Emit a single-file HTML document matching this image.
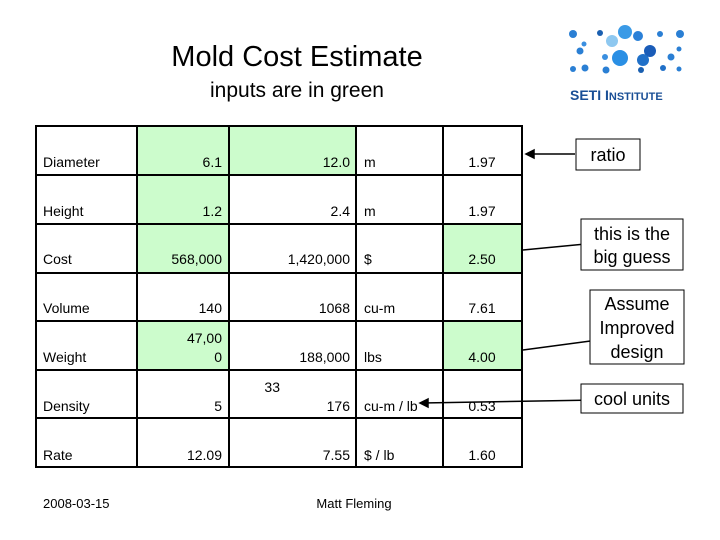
<!DOCTYPE html>
<html><head><meta charset="utf-8"><style>
body{margin:0;background:#fff}
svg{display:block;font-family:"Liberation Sans",Arial,sans-serif}
</style></head><body>
<svg width="720" height="540" viewBox="0 0 720 540">
<rect width="720" height="540" fill="#fff"/>
<text x="297" y="66" font-size="29" text-anchor="middle">Mold Cost Estimate</text>
<text x="297" y="97" font-size="21" text-anchor="middle">inputs are in green</text>
<g>
<circle cx="573" cy="34" r="4" fill="#2a7fd4"/><circle cx="584" cy="44" r="2.5" fill="#3a8fe0"/>
<circle cx="580" cy="51" r="3.5" fill="#2a7fd4"/><circle cx="573" cy="69" r="3" fill="#2a7fd4"/>
<circle cx="585" cy="68" r="3.5" fill="#2a7fd4"/><circle cx="600" cy="33" r="3" fill="#1a5fb0"/>
<circle cx="612" cy="41" r="6" fill="#8ec8f0"/><circle cx="625" cy="32" r="7" fill="#3a9ae6"/>
<circle cx="638" cy="36" r="5" fill="#2a80d8"/><circle cx="660" cy="34" r="3" fill="#2a7fd4"/>
<circle cx="680" cy="34" r="4" fill="#2a7fd4"/><circle cx="650" cy="51" r="6" fill="#1a5cb8"/>
<circle cx="643" cy="60" r="6" fill="#2070c8"/><circle cx="620" cy="58" r="8" fill="#2a8fe4"/>
<circle cx="605" cy="57" r="3" fill="#3a8fe0"/><circle cx="606" cy="70" r="3.5" fill="#2a7fd4"/>
<circle cx="641" cy="70" r="3" fill="#1a5fb0"/><circle cx="671" cy="57" r="3.5" fill="#2a7fd4"/>
<circle cx="679" cy="49" r="2.5" fill="#2a7fd4"/><circle cx="679" cy="69" r="2.5" fill="#2a7fd4"/>
<circle cx="663" cy="68" r="3" fill="#2070c8"/>
<text x="570" y="100" font-size="14" font-weight="bold" fill="#1a4f96">SETI <tspan font-size="14">I</tspan><tspan font-size="11">NSTITUTE</tspan></text>
</g>
<g fill="#ccfccc">
<rect x="137" y="126" width="92" height="147"/>
<rect x="229" y="126" width="127" height="49"/>
<rect x="137" y="321" width="92" height="49"/>
<rect x="443" y="224" width="79" height="49"/>
<rect x="443" y="321" width="79" height="49"/>
</g>
<g stroke="#000" stroke-width="2">
<rect x="36" y="126" width="486" height="341" fill="none"/>
<line x1="137" y1="126" x2="137" y2="467"/><line x1="229" y1="126" x2="229" y2="467"/>
<line x1="356" y1="126" x2="356" y2="467"/><line x1="443" y1="126" x2="443" y2="467"/>
<line x1="36" y1="175" x2="522" y2="175"/><line x1="36" y1="224" x2="522" y2="224"/>
<line x1="36" y1="273" x2="522" y2="273"/><line x1="36" y1="321" x2="522" y2="321"/>
<line x1="36" y1="370" x2="522" y2="370"/><line x1="36" y1="418" x2="522" y2="418"/>
</g>
<g font-size="14" fill="#000">
<g><text x="43" y="167">Diameter</text><text x="43" y="216">Height</text><text x="43" y="264">Cost</text><text x="43" y="313">Volume</text><text x="43" y="362">Weight</text><text x="43" y="411">Density</text><text x="43" y="460">Rate</text></g>
<g text-anchor="end"><text x="222" y="167">6.1</text><text x="222" y="216">1.2</text><text x="222" y="264">568,000</text><text x="222" y="313">140</text><text x="222" y="343">47,00</text><text x="222" y="362">0</text><text x="222" y="411">5</text><text x="222" y="460">12.09</text></g>
<g text-anchor="end"><text x="350" y="167">12.0</text><text x="350" y="216">2.4</text><text x="350" y="264">1,420,000</text><text x="350" y="313">1068</text><text x="350" y="362">188,000</text><text x="280" y="392">33</text><text x="350" y="411">176</text><text x="350" y="460">7.55</text></g>
<g><text x="364" y="167">m</text><text x="364" y="216">m</text><text x="364" y="264">$</text><text x="364" y="313">cu-m</text><text x="364" y="362">lbs</text><text x="364" y="411">cu-m / lb</text><text x="364" y="460">$ / lb</text></g>
<g text-anchor="middle"><text x="482" y="167">1.97</text><text x="482" y="216">1.97</text><text x="482" y="264">2.50</text><text x="482" y="313">7.61</text><text x="482" y="362">4.00</text><text x="482" y="411">0.53</text><text x="482" y="460">1.60</text></g>
</g>
<text x="43" y="508" font-size="13">2008-03-15</text>
<text x="354" y="508" font-size="13" text-anchor="middle">Matt Fleming</text>
<g stroke="#000" stroke-width="1.5" fill="none">
<line x1="575" y1="154" x2="528" y2="154"/><path d="M534 150 L526 154 L534 158Z" fill="#000"/>
<line x1="596" y1="243" x2="523" y2="250"/>
<line x1="598" y1="340" x2="523" y2="350"/>
<line x1="597" y1="400" x2="422" y2="403"/><path d="M428 399 L420 403 L428 407Z" fill="#000"/>
</g>
<g font-size="18" text-anchor="middle">
<rect x="576" y="139" width="64" height="31" fill="#fff" stroke="#000"/><text x="608" y="161">ratio</text>
<rect x="581" y="219" width="102" height="51" fill="#fff" stroke="#000"/><text x="632" y="240">this is the</text><text x="632" y="263">big guess</text>
<rect x="590" y="290" width="94" height="74" fill="#fff" stroke="#000"/><text x="637" y="310">Assume</text><text x="637" y="334">Improved</text><text x="637" y="358">design</text>
<rect x="581" y="384" width="102" height="29" fill="#fff" stroke="#000"/><text x="632" y="405">cool units</text>
</g>
</svg>
</body></html>
